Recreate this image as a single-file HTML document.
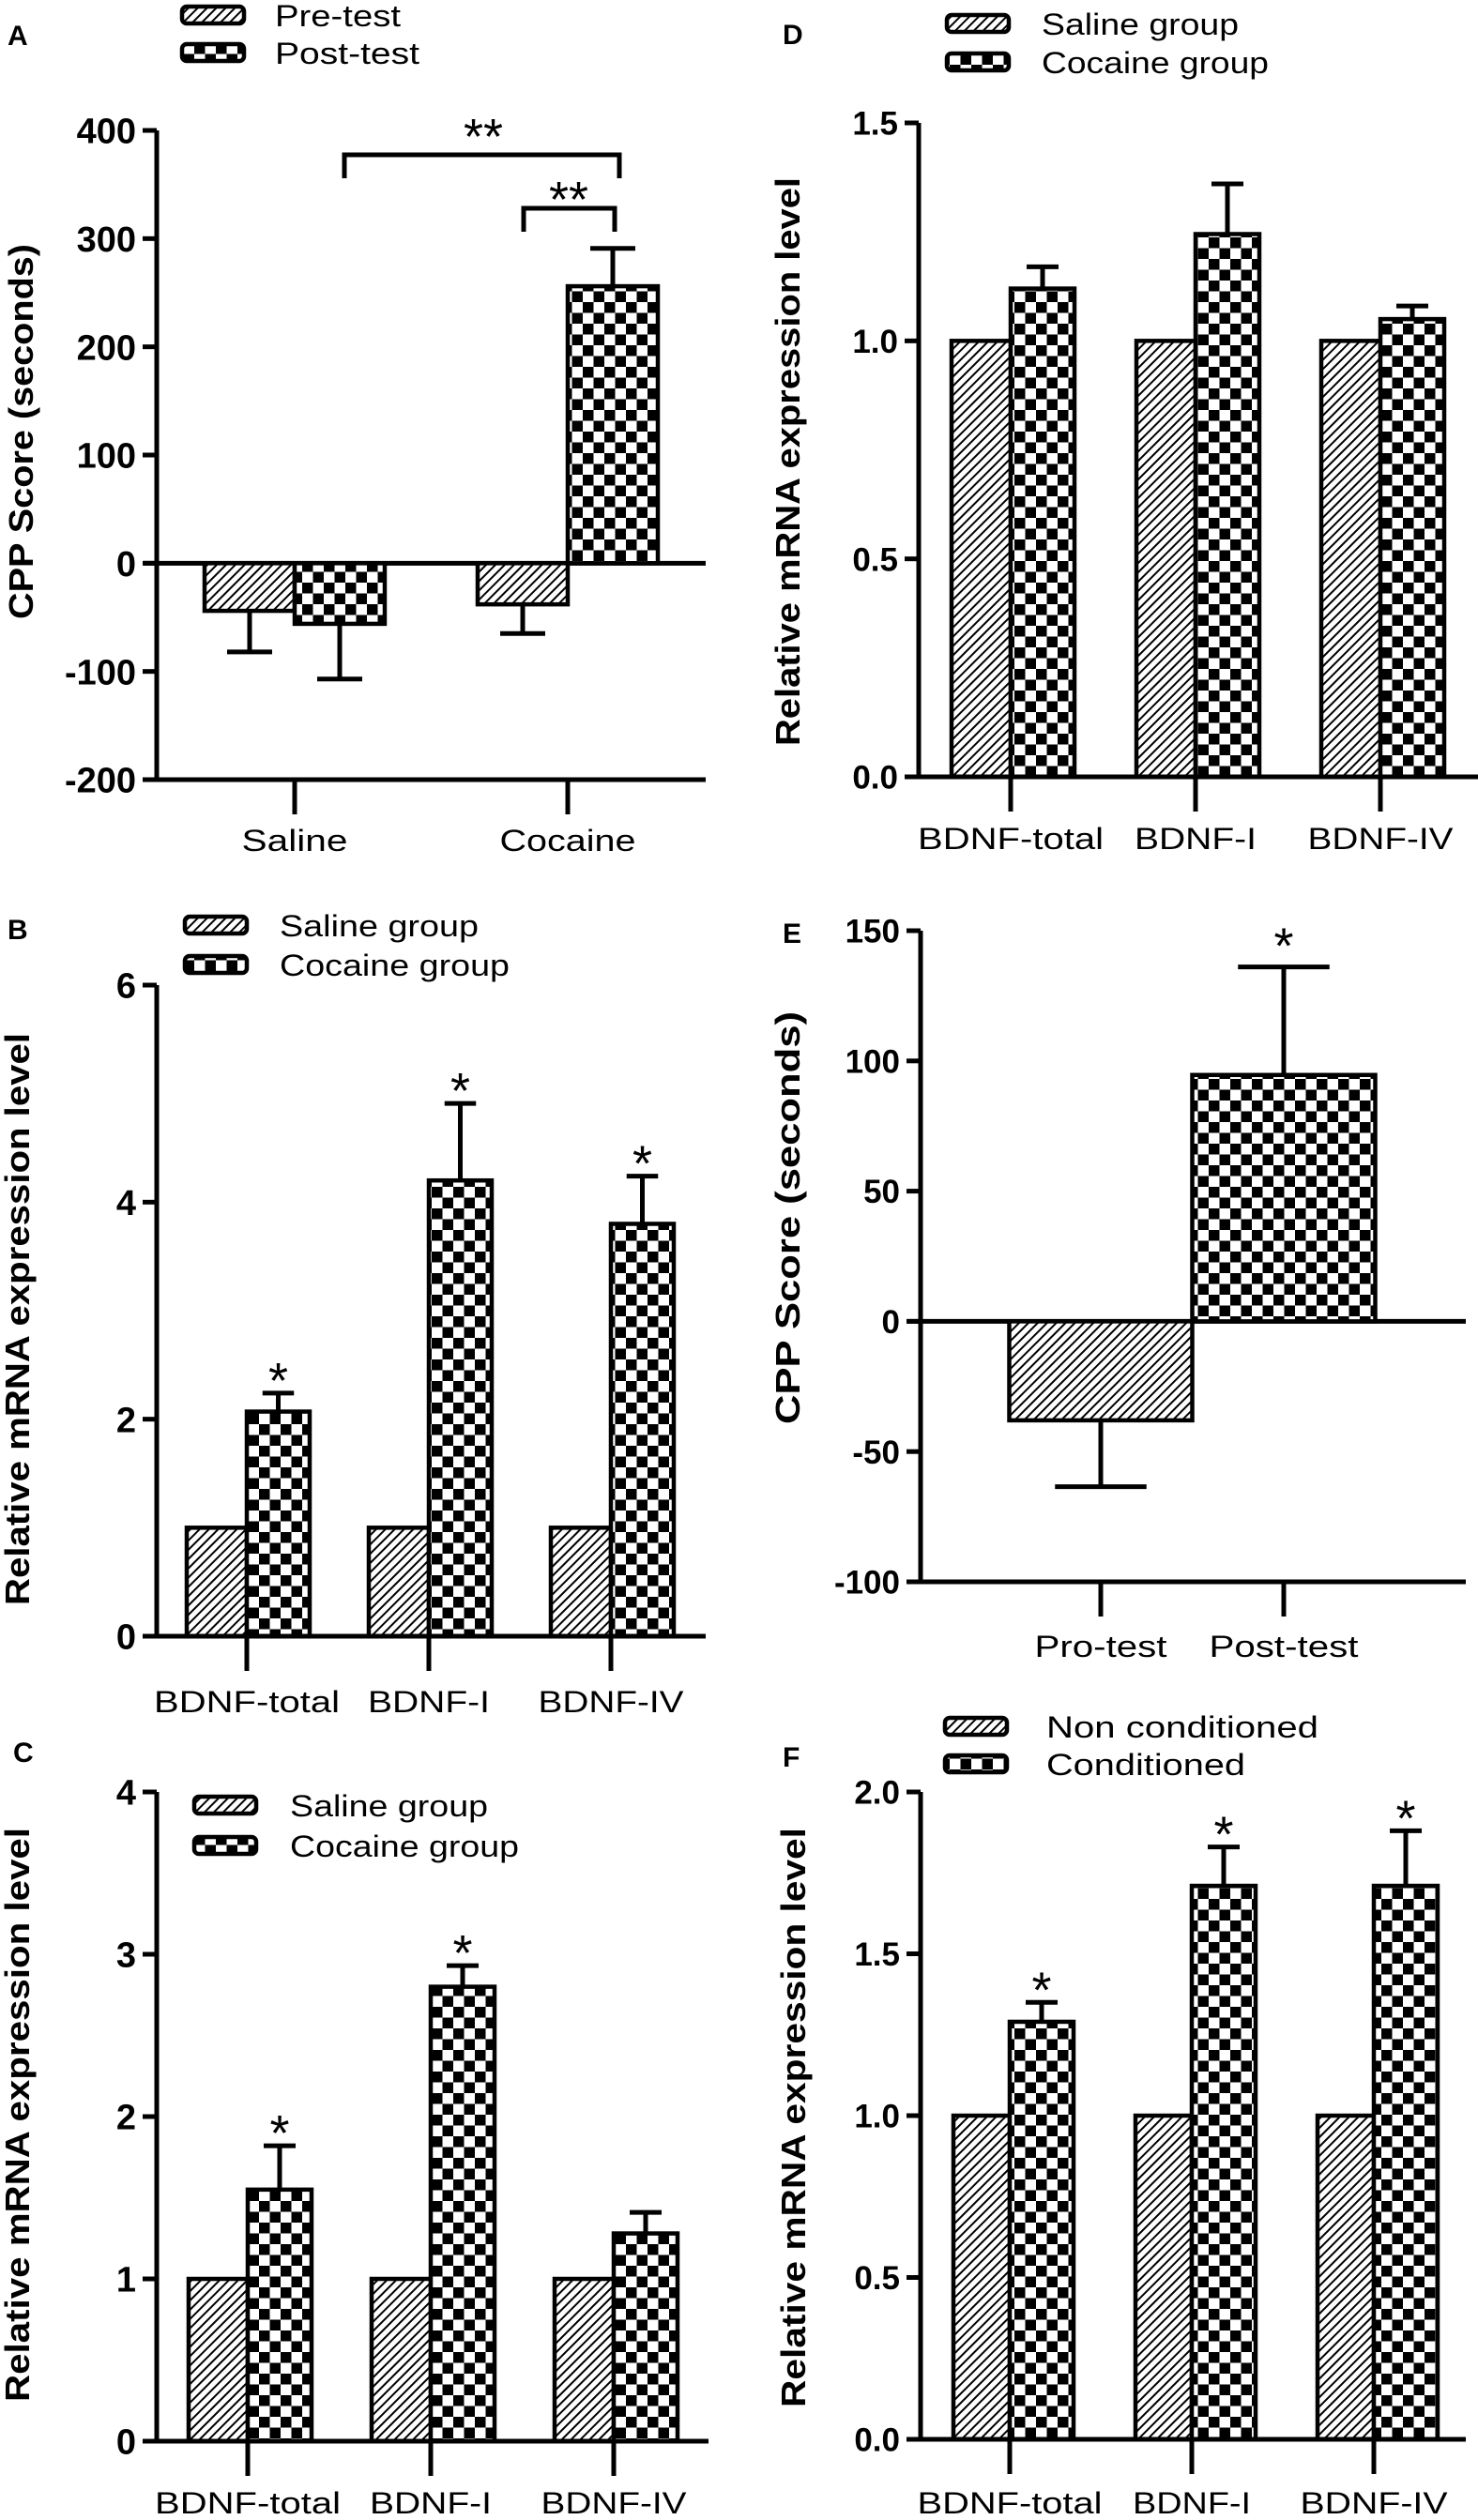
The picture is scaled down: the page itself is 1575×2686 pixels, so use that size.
<!DOCTYPE html>
<html><head><meta charset="utf-8"><style>
html,body{margin:0;padding:0;background:#fff;}
svg{display:block;font-family:"Liberation Sans",Arial,sans-serif;}
</style></head><body>
<svg id="fig" width="1575" height="2686" viewBox="0 0 1575 2686" xmlns="http://www.w3.org/2000/svg">
<defs>
<pattern id="hatch" patternUnits="userSpaceOnUse" width="7" height="7" patternTransform="rotate(45)">
<rect width="7" height="7" fill="#fff"/><line x1="1" y1="0" x2="1" y2="7" stroke="#000" stroke-width="2"/>
</pattern>
<pattern id="check" patternUnits="userSpaceOnUse" width="23" height="23">
<rect width="23" height="23" fill="#fff"/><rect x="0" y="0" width="11.5" height="11.5" fill="#000"/><rect x="11.5" y="11.5" width="11.5" height="11.5" fill="#000"/>
</pattern>
</defs>
</svg>
<script>
// Panel A data
const catsA = ['Saline', 'Cocaine'];
const preA = [-44, -38];
const preSemA = [38, 27];
const postA = [-56, 256];
const postSemA = [51, 35];
const ticksA = [-200, -100, 0, 100, 200, 300, 400];
// Panel B data
const catsB = ['BDNF-total', 'BDNF-I', 'BDNF-IV'];
const salB = [1, 1, 1];
const cocB = [2.07, 4.2, 3.8];
const cocSemB = [0.17, 0.71, 0.44];
const ticksB = [0, 2, 4, 6];
// Panel C data
const catsC = ['BDNF-total', 'BDNF-I', 'BDNF-IV'];
const salC = [1, 1, 1];
const cocC = [1.55, 2.8, 1.28];
const cocSemC = [0.27, 0.13, 0.13];
const ticksC = [0, 1, 2, 3, 4];
// Panel D data
const catsD = ['BDNF-total', 'BDNF-I', 'BDNF-IV'];
const salD = [1, 1, 1];
const cocD = [1.12, 1.245, 1.05];
const cocSemD = [0.05, 0.115, 0.03];
const ticksD = ['0.0', '0.5', '1.0', '1.5'];
// Panel E data
const catsE = ['Pro-test', 'Post-test'];
const valsE = [-38, 94.6];
const semE = [25.5, 41.5];
const ticksE = [-100, -50, 0, 50, 100, 150];
// Panel F data
const catsF = ['BDNF-total', 'BDNF-I', 'BDNF-IV'];
const nonF = [1, 1, 1];
const condF = [1.29, 1.71, 1.71];
const condSemF = [0.06, 0.12, 0.17];
const ticksF = ['0.0', '0.5', '1.0', '1.5', '2.0'];

const NS = 'http://www.w3.org/2000/svg';
const svg = document.getElementById('fig');
function mk(tag, attrs, parent, text) {
  const e = document.createElementNS(NS, tag);
  for (const k in attrs) e.setAttribute(k, attrs[k]);
  if (text !== undefined) e.textContent = text;
  (parent || svg).appendChild(e);
  return e;
}
function scale(d0, d1, p0, p1) { return v => p0 + (v - d0) * (p1 - p0) / (d1 - d0); }

function axes(g, ax, y, ymin, ymax, ticks, tickFs, xEnd, baseVal) {
  const l = mk('line', {x1: ax, y1: y(ymin) + 2, x2: ax, y2: y(ymax), stroke: '#000', 'stroke-width': 5}, g);
  
  
  ticks.forEach(t => {
    const v = parseFloat(t);
    const tk = mk('line', {x1: ax - 15, y1: y(v), x2: ax, y2: y(v), stroke: '#000', 'stroke-width': 5}, g);
    
    
    const tl = mk('text', {x: ax - 22, y: y(v) + tickFs * 0.36, 'text-anchor': 'end', 'font-size': tickFs, 'font-weight': 'bold'}, g, String(t));
    
    
  });
  const xl = mk('line', {x1: ax - 14, y1: y(ymin), x2: xEnd, y2: y(ymin), stroke: '#000', 'stroke-width': 5}, g);
  
  
  if (baseVal !== ymin) {
    const zl = mk('line', {x1: ax - 14, y1: y(baseVal), x2: xEnd, y2: y(baseVal), stroke: '#000', 'stroke-width': 5}, g);
    
    
  }
}
function xTicks(g, xs, yb, cats, lens, labY) {
  xs.forEach((x, i) => {
    const t = mk('line', {x1: x, y1: yb, x2: x, y2: yb + 37, stroke: '#000', 'stroke-width': 5}, g);
    
    
    const tl = mk('text', {x: x, y: labY, 'text-anchor': 'middle', 'font-size': 32, textLength: lens[i], lengthAdjust: 'spacingAndGlyphs'}, g, cats[i]);
    
    
  });
}
function bar(g, x0, x1, y, v, base, fill, name) {
  const ya = y(v), yb = y(base);
  const r = mk('rect', {x: x0, y: Math.min(ya, yb), width: x1 - x0, height: Math.abs(yb - ya), fill: fill, stroke: '#000', 'stroke-width': 4.5}, g);
  
  
}
function err(g, xc, w, y, v, sem) {
  const dir = v >= 0 ? 1 : -1;
  const e = v + dir * sem;
  const l = mk('line', {x1: xc, y1: y(v), x2: xc, y2: y(e), stroke: '#000', 'stroke-width': 5}, g);
  
  
  const c = mk('line', {x1: xc - w / 2, y1: y(e), x2: xc + w / 2, y2: y(e), stroke: '#000', 'stroke-width': 5}, g);
  
  
}
function star(g, x, cy, s) {
  const t = mk('text', {x: x, y: cy + 31, 'text-anchor': 'middle', 'font-size': 54}, g, s);
  
  
}
function legend(g, sx, sy1, sy2, tx, labels, lens) {
  [sy1, sy2].forEach((sy, i) => {
    const r = mk('rect', {x: sx, y: sy, width: 66, height: 18, rx: 5, fill: i ? 'url(#check)' : 'url(#hatch)', stroke: '#000', 'stroke-width': 4.5}, g);
    
    
    const t = mk('text', {x: tx, y: sy + 9 + 12, 'font-size': 32, textLength: lens[i], lengthAdjust: 'spacingAndGlyphs'}, g, labels[i]);
    
    
  });
}
function panelLetter(g, x, cy, s) {
  const t = mk('text', {x: x, y: cy + 11, 'font-size': 30, 'font-weight': 'bold'}, g, s);
  
  
}
function yTitle(g, cx, cy, s, len) {
  const t = mk('text', {x: 0, y: 0, 'text-anchor': 'middle', 'font-size': 36, 'font-weight': 'bold', textLength: len, lengthAdjust: 'spacingAndGlyphs', transform: `translate(${cx + 13},${cy}) rotate(-90)`}, g, s);
  
  
}
function grouped(g, cfg, cats, s1, s2, sem2) {
  const y = scale(cfg.d0, cfg.d1, cfg.p0, cfg.p1);
  cats.forEach((c, i) => {
    const xc = cfg.x0 + i * cfg.step;
    bar(g, xc - cfg.w1, xc, y, s1[i], 0, 'url(#hatch)', 'bar-saline-' + i);
    bar(g, xc, xc + cfg.w2, y, s2[i], 0, 'url(#check)', 'bar-treated-' + i);
    err(g, xc + cfg.w2 / 2, cfg.w2 / 2, y, s2[i], sem2[i]);
    if (cfg.stars[i]) star(g, xc + cfg.w2 / 2, y(s2[i] + sem2[i]) - cfg.starGap, '*');
  });
  return y;
}

// ---------- Panel A ----------
(function () {
  const g = mk('g', {});  
  const y = scale(-200, 400, 831, 139);
  axes(g, 167, y, -200, 400, ticksA, 38, 752, 0);
  const x0 = 314, step = 291, w = 96;
  catsA.forEach((c, i) => {
    const xc = x0 + i * step;
    bar(g, xc - w, xc, y, preA[i], 0, 'url(#hatch)', 'bar-pre-test-' + i);
    bar(g, xc, xc + w, y, postA[i], 0, 'url(#check)', 'bar-post-test-' + i);
    err(g, xc - w / 2, w / 2, y, preA[i], preSemA[i]);
    err(g, xc + w / 2, w / 2, y, postA[i], postSemA[i]);
  });
  xTicks(g, [x0, x0 + step], y(-200), catsA, [113, 145], 907);
  const br1 = mk('path', {d: 'M367 190 V165 H660 V190', fill: 'none', stroke: '#000', 'stroke-width': 5}, g);
   
  const br2 = mk('path', {d: 'M558 247 V222 H655 V247', fill: 'none', stroke: '#000', 'stroke-width': 5}, g);
   
  star(g, 515, 133, '**'); star(g, 606, 200, '**');
  legend(g, 194, 7, 47, 293, ['Pre-test', 'Post-test'], [134, 154]);
  panelLetter(g, 8, 37, 'A');
  yTitle(g, 22, 460, 'CPP Score (seconds)', 400);
})();

// ---------- Panel B ----------
(function () {
  const g = mk('g', {});  
  const cfg = {d0: 0, d1: 6, p0: 1744, p1: 1050, x0: 263, step: 194, w1: 64, w2: 67, stars: [1, 1, 1], starGap: 26};
  const y = grouped(g, cfg, catsB, salB, cocB, cocSemB);
  axes(g, 167, y, 0, 6, ticksB, 38, 752, 0);
  xTicks(g, [263, 457, 651], y(0), catsB, [198, 130, 155], 1825);
  legend(g, 197, 977, 1019, 298, ['Saline group', 'Cocaine group'], [212, 245]);
  panelLetter(g, 8, 990, 'B');
  yTitle(g, 18, 1406, 'Relative mRNA expression level', 610);
})();

// ---------- Panel C ----------
(function () {
  const g = mk('g', {});  
  const cfg = {d0: 0, d1: 4, p0: 2602, p1: 1910, x0: 264, step: 195, w1: 63, w2: 68, stars: [1, 1, 0], starGap: 26};
  const y = grouped(g, cfg, catsC, salC, cocC, cocSemC);
  axes(g, 167, y, 0, 4, ticksC, 38, 755, 0);
  xTicks(g, [264, 459, 654], y(0), catsC, [198, 130, 155], 2679);
  legend(g, 207, 1915, 1958, 309, ['Saline group', 'Cocaine group'], [211, 244]);
  panelLetter(g, 14, 1867, 'C');
  yTitle(g, 18, 2254, 'Relative mRNA expression level', 612);
})();

// ---------- Panel D ----------
(function () {
  const g = mk('g', {});  
  const cfg = {d0: 0, d1: 1.5, p0: 828, p1: 131, x0: 1077, step: 197, w1: 63, w2: 68, stars: [0, 0, 0], starGap: 26};
  const y = grouped(g, cfg, catsD, salD, cocD, cocSemD);
  axes(g, 979, y, 0, 1.5, ticksD, 35, 1575, 0);
  xTicks(g, [1077, 1274, 1471], y(0), catsD, [198, 130, 155], 905);
  legend(g, 1009, 16, 57, 1110, ['Saline group', 'Cocaine group'], [210, 242]);
  panelLetter(g, 834, 36, 'D');
  yTitle(g, 839, 492, 'Relative mRNA expression level', 606);
})();

// ---------- Panel E ----------
(function () {
  const g = mk('g', {});  
  const y = scale(-100, 150, 1686, 992);
  axes(g, 981, y, -100, 150, ticksE, 35, 1562, 0);
  const x0 = 1173, step = 195, w = 195;
  const fills = ['url(#hatch)', 'url(#check)'];
  catsE.forEach((c, i) => {
    const xc = x0 + i * step;
    bar(g, xc - w / 2, xc + w / 2, y, valsE[i], 0, fills[i], 'bar-' + c.toLowerCase());
    err(g, xc, w / 2, y, valsE[i], semE[i]);
  });
  star(g, x0 + step, y(valsE[1] + semE[1]) - 35, '*');
  xTicks(g, [x0, x0 + step], y(-100), catsE, [141, 159], 1766);
  panelLetter(g, 834, 994, 'E');
  yTitle(g, 839, 1298, 'CPP Score (seconds)', 440);
})();

// ---------- Panel F ----------
(function () {
  const g = mk('g', {});  
  const cfg = {d0: 0, d1: 2, p0: 2600, p1: 1910, x0: 1076, step: 194, w1: 60, w2: 68, stars: [1, 1, 1], starGap: 26};
  const y = grouped(g, cfg, catsF, nonF, condF, condSemF);
  axes(g, 981, y, 0, 2, ticksF, 35, 1562, 0);
  xTicks(g, [1076, 1270, 1464], y(0), catsF, [197, 126, 157], 2679);
  legend(g, 1007, 1831, 1871, 1115, ['Non conditioned', 'Conditioned'], [290, 212]);
  panelLetter(g, 834, 1872, 'F');
  yTitle(g, 845, 2257, 'Relative mRNA expression level', 618);
})();
</script>
</body></html>
